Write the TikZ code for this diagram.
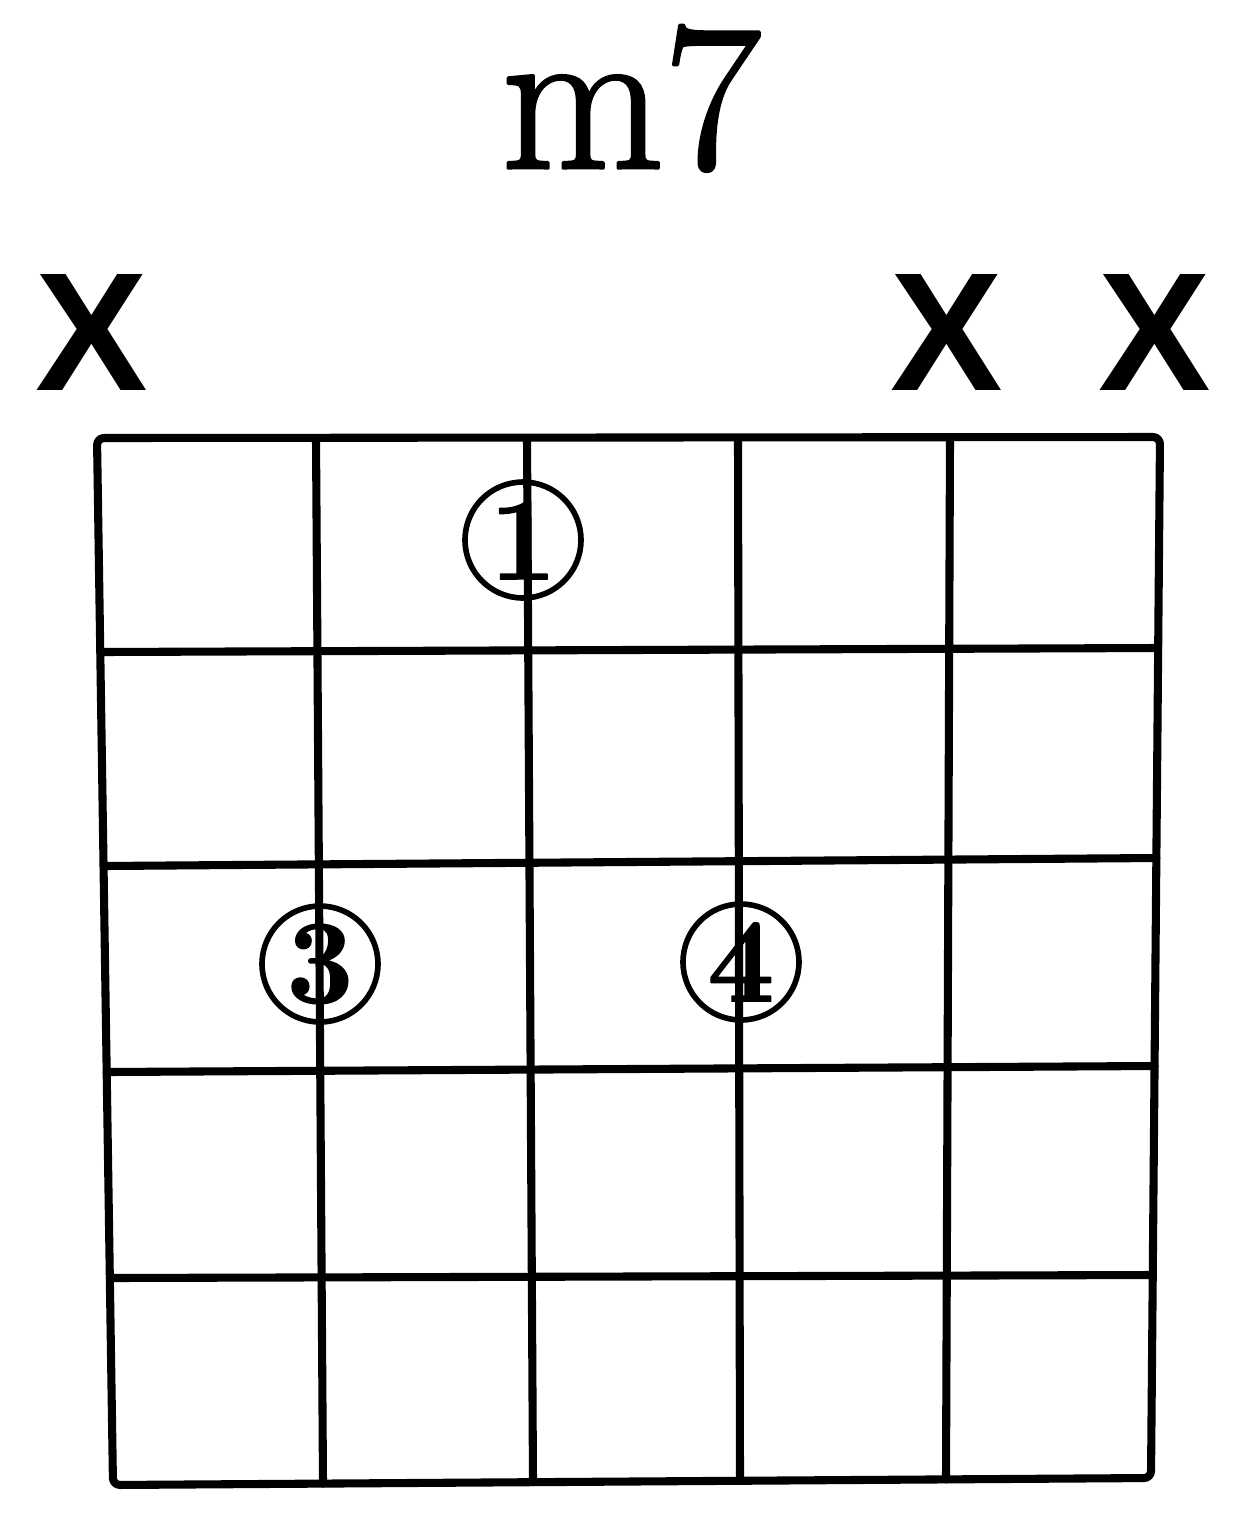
\documentclass[tikz,border=0pt]{standalone}
\usepackage{fontspec}
\newfontfamily\xfont{Liberation Sans}
\newfontfamily\titlefont[FakeBold=1.6]{Latin Modern Roman}
\newfontfamily\digitfont[FakeBold=1.2]{Latin Modern Roman}
\begin{document}
\begin{tikzpicture}[x=0.02cm,y=-0.02cm, line join=round, line cap=round,
  gridline/.style={line width=4.6pt},
  finger/.style={circle, draw, line width=3.2pt, minimum size=2.32cm, inner sep=0pt,
    font=\digitfont\bfseries\fontsize{68}{68}\selectfont},
  mute/.style={inner sep=0pt, font=\xfont\bfseries\fontsize{96}{96}\selectfont},
  chordname/.style={anchor=base, inner sep=0pt, font=\titlefont\fontsize{120}{120}\selectfont}]
\useasboundingbox (0,0) rectangle (1235,1536);
% title
\node[chordname] (title) at (631,168) {m7};
% muted strings
\node[mute] (x1) at (92,332) {X};
\node[mute] (x5) at (947,332) {X};
\node[mute] (x6) at (1155,332) {X};
% grid
\coordinate (TL) at (97,438);
\coordinate (TR) at (1160,437);
\coordinate (BR) at (1151,1478);
\coordinate (BL) at (113,1485);
\draw[gridline, rounded corners=4pt] (TL) -- (TR) -- (BR) -- (BL) -- cycle;
\foreach \a/\b/\c in {316/323/1483.6, 527/533/1482.2, 738/740/1480.8, 950/946/1479.4}
  \draw[gridline] (\a,438) -- (\b,\c);
\foreach \l/\y/\r/\z in {100.3/652/1158.2/648, 103.5/866/1156.4/858, 106.7/1072/1154.6/1066, 109.8/1278/1152.8/1275}
  \draw[gridline] (\l,\y) -- (\r,\z);
% fingers
\node[finger] (f1) at (523,540) {1};
\node[finger] (f3) at (320,964) {3};
\node[finger] (f4) at (741,962) {4};
\end{tikzpicture}
\end{document}
